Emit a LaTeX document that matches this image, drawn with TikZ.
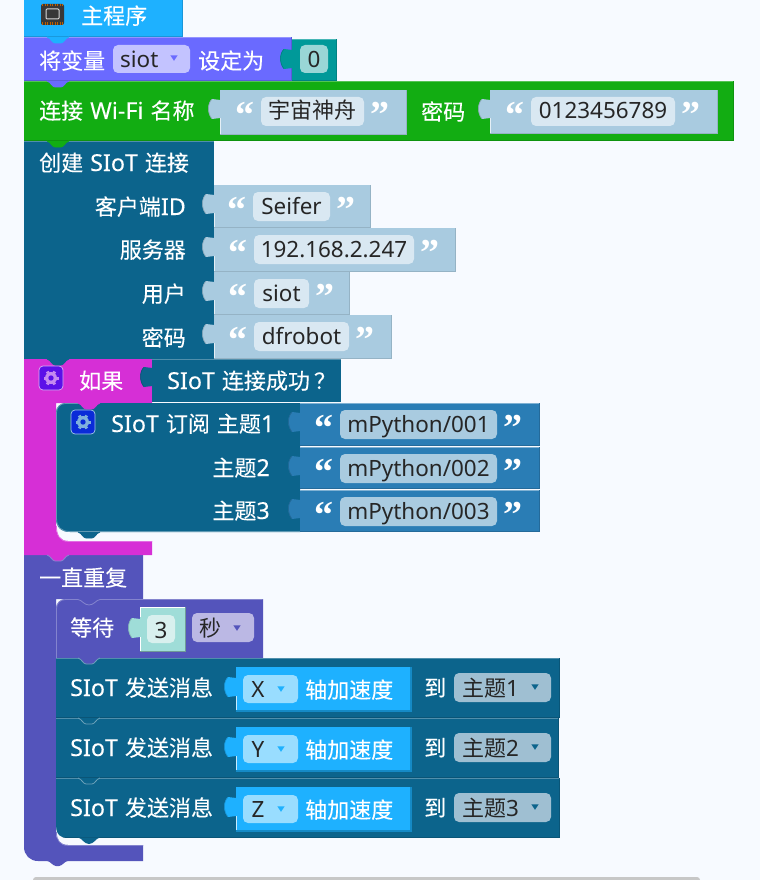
\documentclass[tikz,border=0pt]{standalone}
\usepackage{fontspec}
\setmainfont{Noto Sans CJK SC}
\newfontfamily\latr[Scale=1.02]{Noto Sans}
\newfontfamily\latb[Scale=1.06,FakeBold=0.12]{Noto Sans}
\newfontfamily\cjkb[FakeBold=0.12]{Noto Sans CJK SC}
\newfontfamily\quof{Liberation Serif}
\let\latf\latr
\newcommand\lt[1]{{\latf #1}}
\newcommand\gp{\hspace{7pt}}
\newcommand\whitefont{\cjkb\let\latf\latb}
\definecolor{bgc}{HTML}{F7FAFF}
\definecolor{hatc}{HTML}{1EB1FF}
\definecolor{varc}{HTML}{6A6AFF}
\definecolor{tealc}{HTML}{009999}
\definecolor{tealf}{HTML}{99D6D6}
\definecolor{wific}{HTML}{12AD12}
\definecolor{siotc}{HTML}{0C648C}
\definecolor{strc}{HTML}{A9CBE0}
\definecolor{strf}{HTML}{D9E8F2}
\definecolor{str2c}{HTML}{2A7DB5}
\definecolor{str2f}{HTML}{A9CBE0}
\definecolor{ifc}{HTML}{D62FD6}
\definecolor{loopc}{HTML}{5454BB}
\definecolor{numc}{HTML}{9FDDD8}
\definecolor{numf}{HTML}{D8F0EE}
\definecolor{ddl}{HTML}{BBB8E4}
\definecolor{axisf}{HTML}{99DDFF}
\definecolor{ddt}{HTML}{9FBFD2}
\definecolor{vard}{HTML}{C3C3FF}
\definecolor{gearbA}{HTML}{5B10E8}
\definecolor{gearfA}{HTML}{C48AF0}
\definecolor{gearbB}{HTML}{0A2BD8}
\definecolor{gearfB}{HTML}{7FB0DD}
\tikzset{
  lbl/.style={inner sep=0pt,text height=19pt,text depth=3pt,font=\whitefont\fontsize{22}{24}\selectfont,text=white},
  dark/.style={inner sep=0pt,text height=19pt,text depth=3pt,font=\fontsize{22}{24}\selectfont,text=black!85},
  fieldbox/.style={rounded corners=5pt},
  quot/.style={inner sep=0pt,text=white,text height=17pt,text depth=0pt,font=\quof\bfseries\fontsize{38}{38}\selectfont},
}
% fill colour, x1,y1,x2,y2 : flat block with bevel
\newcommand\blk[5]{%
  \fill[#1] (#2,#3) rectangle (#4,#5);
  \draw[#1!72!white,line width=1pt] (#2,#3+.5) -- (#4,#3+.5);
  \draw[#1!85!black,line width=1pt] (#2,#5-.5) -- (#4-.5,#5-.5) -- (#4-.5,#3);
}
% fill, stroke, centre x, y
\newcommand\notch[4]{%
  \fill[#1] (#3-11,#4) .. controls (#3-7,#4+1) and (#3-6,#4+6) .. (#3-3,#4+6) -- (#3+3,#4+6) .. controls (#3+6,#4+6) and (#3+7,#4+1) .. (#3+11,#4) -- cycle;
  \draw[#2,line width=.8pt] (#3-11,#4) .. controls (#3-7,#4+1) and (#3-6,#4+6) .. (#3-3,#4+6) -- (#3+3,#4+6) .. controls (#3+6,#4+6) and (#3+7,#4+1) .. (#3+11,#4);
}
% fill, right x, top y
\newcommand\tabin[3]{%
  \fill[#1] (#2+.5,#3+1) .. controls (#2-3,#3+2) and (#2-5,#3-1) .. (#2-8,#3) .. controls (#2-13,#3+4) and (#2-13,#3+15) .. (#2-8,#3+20) .. controls (#2-5,#3+21) and (#2-3,#3+18) .. (#2+.5,#3+19) -- cycle;
  \draw[#1!80!black,line width=.5pt] (#2-8,#3+.3) .. controls (#2-12.6,#3+4) and (#2-12.6,#3+15) .. (#2-8,#3+19.7);
}
% name, x1,y1,x2,y2, field x1,x2, text
\newcommand\sblock[8]{%
  \fill[strc] (#2,#3) rectangle (#4,#5);
  \draw[white!70!strc,line width=1pt] (#2+.5,#5-.5) -- (#2+.5,#3+28);
  \draw[strc!88!black,line width=.8pt] (#2,#5-.4) -- (#4-.4,#5-.4) -- (#4-.4,#3);
  \tabin{strc}{#2}{#3+9}
  \fill[strf,fieldbox] (#6,#3+7) rectangle (#7,#3+36);
  \node[dark] (#1) at ({(#6+#7)/2},#3+21) {#8};
  \node[quot,anchor=north] (#1o) at (#6-16,#3+20) {“};
  \node[quot,anchor=north] (#1c) at (#7+16,#3+20) {”};
}
\newcommand\tblock[8]{%
  \fill[str2c] (#2,#3) rectangle (#4,#5);
  \draw[str2c!60!white,line width=1pt] (#2,#3+.5) -- (#4,#3+.5);
  \draw[str2c!85!black,line width=.8pt] (#2,#5-.4) -- (#4-.4,#5-.4) -- (#4-.4,#3);
  \tabin{str2c}{#2}{#3+9}
  \fill[str2f,fieldbox] (#6,#3+7) rectangle (#7,#3+36);
  \node[dark] (#1) at ({(#6+#7)/2},#3+21) {#8};
  \node[quot,anchor=north] (#1o) at (#6-16,#3+20) {“};
  \node[quot,anchor=north] (#1c) at (#7+16,#3+20) {”};
}
% triangle: colour, x, y
\newcommand\ddtri[3]{\fill[#1] (#2-3.7,#3-2.7) -- (#2+3.7,#3-2.7) -- (#2,#3+2.8) -- cycle;}
% gear: box fill, gear fill, x1, y1
\newcommand\gear[4]{%
  \fill[#1,rounded corners=4pt,draw=#2!70!white,line width=.7pt] (#3,#4) rectangle (#3+24,#4+24);
  \foreach \aa in {0,60,...,300}{\draw[#2,line width=3pt] (#3+12,#4+12) -- ++(\aa:7.5);}
  \fill[#2] (#3+12,#4+12) circle (6);
  \fill[#1] (#3+12,#4+12) circle (2.7);
}
% send row: name suffix, y, xr, axis letter, topic
\newcommand\sendrow[5]{%
  \blk{siotc}{56}{#2}{#3}{#2+60}
  \node[lbl,anchor=west] (send#1) at (70,#2+30) {\lt{SIoT}\gp 发送消息};
  \tabin{hatc}{236}{#2+19}
  \fill[hatc] (236,#2+9) rectangle (411,#2+53);
  \draw[white!75!hatc,line width=.8pt] (236.5,#2+53) -- (236.5,#2+38);
  \draw[siotc!50!hatc,line width=2pt] (236,#2+52.5) -- (410.5,#2+52.5) -- (410.5,#2+9);
  \fill[axisf,fieldbox] (243,#2+17) rectangle (298,#2+45);
  \node[dark] (axis#1) at (258,#2+31) {\lt{#4}};
  \ddtri{hatc}{281}{#2+31}
  \node[lbl,anchor=west] (acc#1) at (305,#2+32) {轴加速度};
  \node[lbl,anchor=west] (to#1) at (424,#2+30) {到};
  \fill[ddt,fieldbox] (454,#2+15) rectangle (551,#2+44);
  \node[dark,anchor=west] (topic#1) at (462,#2+30) {主题\lt{#5}};
  \ddtri{siotc}{535}{#2+29}
}
\begin{document}
\begin{tikzpicture}[x=1pt,y=-1pt]
\useasboundingbox (0,0) rectangle (760,880);
\fill[bgc] (0,0) rectangle (760,880);
% scrollbar
\fill[black!22,rounded corners=3pt] (33,877) rectangle (700,884);

% --- forever
\fill[loopc] (24,555) -- (143,555) -- (143,599) -- (56,599) -- (56,845) -- (143,845) -- (143,861) -- (72,861) -- (68,861) .. controls (65,861) and (62,866) .. (59,866) -- (56,866) .. controls (53,866) and (50,861) .. (47,861) -- (38,861) .. controls (30,861) and (24,855) .. (24,847) -- cycle;
\node[lbl,anchor=west] (forever) at (39,578) {一直重复};

% --- wait block
\fill[loopc] (56,609) .. controls (56,603) and (60,599) .. (66,599) -- (263,599) -- (263,658) -- (56,658) -- cycle;
\draw[loopc!72!white,line width=.8pt] (56.5,658) -- (56.5,609) .. controls (56.5,603) and (60,599.5) .. (66,599.5) -- (78,599.5) .. controls (82,600) and (84,605) .. (89,605) .. controls (94,605) and (96,600) .. (100,599.5) -- (262.5,599.5);
\node[lbl,anchor=west] (wait) at (70,628) {等待};
\tabin{numc}{140}{618}
\fill[numc] (140,607) rectangle (186,652);
\draw[white,line width=.8pt] (140.5,652) -- (140.5,637);
\draw[white,line width=.8pt] (140.5,617) -- (140.5,607) -- (185,607);
\draw[numc!70!black,line width=1pt] (140,651.5) -- (185.5,651.5) -- (185.5,607);
\fill[numf,fieldbox] (147,615) rectangle (175,643);
\node[dark] (three) at (161,630) {\lt{3}};
\fill[ddl,fieldbox] (192,613) rectangle (254,642);
\node[dark,anchor=west] (sec) at (199,628) {秒};
\ddtri{loopc}{237}{628}

% --- send rows
\sendrow{x}{658}{560}{X}{1}
\sendrow{y}{718}{559}{Y}{2}
\sendrow{z}{778}{560}{Z}{3}
\fill[bgc] (56,827) .. controls (56,834) and (60,838.2) .. (68,838.2) -- (56,838.2) -- cycle;
\fill[bgc] (56,838) rectangle (70,845);
\fill[loopc] (56,832) .. controls (56,840) and (60,845) .. (68,845) -- (68,845.5) -- (56,845.5) -- cycle;
\draw[loopc!72!white,line width=.8pt] (56.4,832) .. controls (56.4,840) and (60,845.4) .. (68,845.4) -- (143,845.4);
\notch{loopc}{siotc!60!white}{89}{658}
\notch{siotc}{siotc!60!white}{89}{718}
\notch{siotc}{siotc!60!white}{89}{778}
\fill[siotc] (78,837.5) .. controls (82,838) and (84,844) .. (89,844) .. controls (94,844) and (96,838) .. (100,837.5) -- cycle;

% --- if block
\fill[ifc] (24,359) -- (152,359) -- (152,403) -- (56,403) -- (56,541) -- (152,541) -- (152,555) -- (24,555) -- cycle;
\fill[ifc] (56,526) .. controls (56,535) and (60,541) .. (68,541) -- (68,542) -- (56,542) -- cycle;
\draw[ifc!70!white,line width=.8pt] (56.4,526) .. controls (56.4,535) and (60,541.4) .. (68,541.4) -- (152,541.4);
\notch{ifc}{loopc!70!white}{58}{555}
\gear{gearbA}{gearfA}{39}{366}
\node[lbl,anchor=west] (iflbl) at (79,381) {如果};
\fill[siotc] (152,359) rectangle (341,402);
\draw[siotc!72!white,line width=.8pt] (152,359.5) -- (340.5,359.5);
\tabin{siotc}{152}{367}
\node[lbl,anchor=west] (cond) at (167,381) {\lt{SIoT}\gp 连接成功\hspace{4pt}？};

% --- subscribe block
\fill[siotc] (66,403) -- (300,403) -- (300,532) -- (70,532) .. controls (61,532) and (56,527) .. (56,518) -- (56,413) .. controls (56,407) and (60,403) .. (66,403) -- cycle;
\draw[siotc!65!white,line width=.8pt] (56.5,518) -- (56.5,413) .. controls (56.5,407) and (60,403.5) .. (66,403.5) -- (78,403.5);
\draw[siotc!65!white,line width=.8pt] (56.5,518) .. controls (56.5,527) and (61,531.5) .. (70,531.5) -- (300,531.5);
\gear{gearbB}{gearfB}{71}{410}
\node[lbl,anchor=west] (sub1) at (111,424) {\lt{SIoT}\gp 订阅\gp 主题\lt{1}};
\node[lbl,anchor=east] (sub2) at (270,468) {主题\lt{2}};
\node[lbl,anchor=east] (sub3) at (270,511) {主题\lt{3}};
\tblock{t1}{300}{403}{540}{446}{340}{497}{\lt{mPython/001}}
\tblock{t2}{300}{447}{540}{489}{340}{497}{\lt{mPython/002}}
\tblock{t3}{300}{490}{540}{532}{340}{497}{\lt{mPython/003}}
\notch{ifc}{ifc}{89}{403}
\notch{siotc}{siotc}{89}{532}

% --- create connection
\fill[siotc] (24,141) rectangle (214,359);
\draw[siotc!72!white,line width=.8pt] (24,141.5) -- (214,141.5);
\node[lbl,anchor=west] (create) at (39,163) {创建\gp\lt{SIoT}\gp 连接};
\node[lbl,anchor=east] (cid) at (186,207) {客户端\lt{ID}};
\node[lbl,anchor=east] (srv) at (186,250) {服务器};
\node[lbl,anchor=east] (usr) at (186,294) {用户};
\node[lbl,anchor=east] (pwd) at (186,338) {密码};
\sblock{s1}{214}{185}{371}{228}{253}{330}{\lt{Seifer}}
\sblock{s2}{214}{228}{456}{272}{254}{414}{\lt{192.168.2.247}}
\sblock{s3}{214}{272}{350}{315}{254}{309}{\lt{siot}}
\sblock{s4}{214}{315}{392}{359}{254}{349}{\lt{dfrobot}}
\notch{siotc}{siotc}{58}{359}

% --- wifi
\blk{wific}{24}{81}{734}{141}
\node[lbl,anchor=west] (wifi) at (39,111) {连接\gp\lt{Wi-Fi}\gp 名称};
\sblock{w1}{220}{90}{407}{135}{261}{364}{宇宙神舟}
\node[lbl,anchor=west] (wpw) at (421,112) {密码};
\sblock{w2}{490}{90}{718}{134}{531}{675}{\lt{0123456789}}
\notch{wific}{wific}{58}{141}

% --- set variable
\blk{varc}{24}{37}{292}{81}
\node[lbl,anchor=west] (setv) at (39,61) {将变量};
\fill[vard,fieldbox] (113,45) rectangle (190,73);
\node[dark,anchor=west] (siot) at (120,60) {\lt{siot}};
\ddtri{varc}{174}{58}
\node[lbl,anchor=west] (seto) at (198,61) {设定为};
\blk{tealc}{292}{39}{337}{81}
\tabin{tealc}{292}{49}
\fill[tealf,fieldbox] (300,45) rectangle (328,73);
\node[dark] (zero) at (314,60) {\lt{0}};
\notch{varc}{varc}{58}{81}

% --- hat
\fill[hatc] (24,0) rectangle (183,37);
\draw[hatc!85!black,line width=.8pt] (24,36.6) -- (182.6,36.6) -- (182.6,0);
\notch{hatc}{hatc}{58}{37}
\fill[black!78,rounded corners=2pt] (41,4) rectangle (64,25);
\foreach \dx in {42,44.5,...,63}{\fill[orange!75!black] (\dx,22.5) rectangle (\dx+1.3,25);\fill[orange!75!black] (\dx,4) rectangle (\dx+1.3,6);}
\draw[white!85!black,line width=1pt,rounded corners=1pt] (46,9) rectangle (59,19);
\node[lbl,anchor=west] (main) at (81,16) {主程序};
\end{tikzpicture}
\end{document}
